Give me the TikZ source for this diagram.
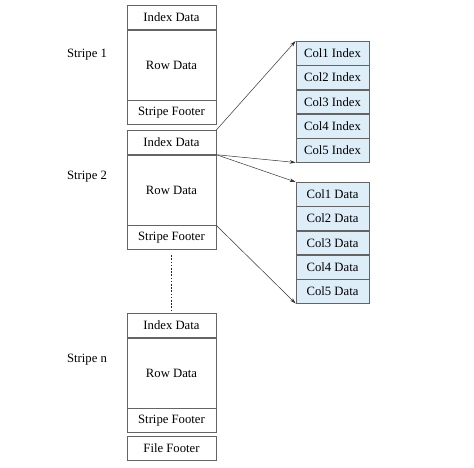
\documentclass[tikz,border=0pt]{standalone}
\usepackage{fontspec}
\setmainfont{Liberation Serif}
\usetikzlibrary{positioning}
\usetikzlibrary{arrows.meta}

\definecolor{linegray}{RGB}{100,100,100}
\definecolor{colblue}{RGB}{221,238,248}

\tikzset{
  part/.style={draw=linegray, line width=0.7pt, minimum width=89pt, inner sep=0pt,
    font=\fontsize{12.7}{15}\selectfont},
  idxpart/.style={part, minimum height=24pt},
  rowpart/.style={part, minimum height=70pt},
  footpart/.style={part, minimum height=24pt},
  colpart/.style={draw=linegray, line width=0.7pt, fill=colblue, minimum width=73pt,
    minimum height=23.6pt, inner sep=0pt, font=\fontsize{12.7}{15}\selectfont},
  stripelabel/.style={font=\fontsize{12.7}{15}\selectfont},
  link/.style={draw=black!80, line width=0.5pt, -{Stealth[length=6pt,width=3.5pt]}}
}

\begin{document}
\begin{tikzpicture}[x=1pt,y=-1pt]
                    \useasboundingbox (0,0) rectangle (474,467);

                    % stripe 1
                    \node[idxpart, anchor=north] (s1i) at (171.5,5) {Index Data};
                    \node[rowpart, below=0pt of s1i] (s1r) {Row Data};
                    \node[footpart, below=0pt of s1r] (s1f) {Stripe Footer};
                    \node[stripelabel] (s1l) at (87,55) {Stripe 1};

                    % stripe 2
                    \node[idxpart, anchor=north] (s2i) at (171.5,130) {Index Data};
                    \node[rowpart, below=0pt of s2i] (s2r) {Row Data};
                    \node[footpart, below=0pt of s2r] (s2f) {Stripe Footer};
                    \node[stripelabel] (s2l) at (87,177) {Stripe 2};

                    % stripe n
                    \node[idxpart, anchor=north] (sni) at (171.5,313) {Index Data};
                    \node[rowpart, below=0pt of sni] (snr) {Row Data};
                    \node[footpart, below=0pt of snr] (snf) {Stripe Footer};
                    \node[footpart, below=3pt of snf] (ff) {File Footer};
                    \node[stripelabel] (snl) at (87,360) {Stripe n};

                    \draw[black!85, line width=1.4pt, dash pattern=on 1.6pt off 1.6pt, shorten <=5pt, shorten >=1pt] (s2f.south) -- (sni.north);

                    % index streams
                    \node[colpart, anchor=north] (c1i) at (332.5,41) {Col1 Index};
                    \node[colpart, below=0pt of c1i] (c2i) {Col2 Index};
                    \node[colpart, below=0pt of c2i] (c3i) {Col3 Index};
                    \node[colpart, below=0pt of c3i] (c4i) {Col4 Index};
                    \node[colpart, below=0pt of c4i] (c5i) {Col5 Index};

                    % data streams
                    \node[colpart, anchor=north] (c1d) at (332.5,182) {Col1 Data};
                    \node[colpart, below=0pt of c1d] (c2d) {Col2 Data};
                    \node[colpart, below=0pt of c2d] (c3d) {Col3 Data};
                    \node[colpart, below=0pt of c3d] (c4d) {Col4 Data};
                    \node[colpart, below=0pt of c4d] (c5d) {Col5 Data};

                    \draw[link] (s2i.north east) -- (c1i.north west);
                    \draw[link] (s2i.south east) -- (c5i.south west);
                    \draw[link] (s2i.south east) -- (c1d.north west);
                    \draw[link] (s2f.north east) -- (c5d.south west);
\end{tikzpicture}
\end{document}
